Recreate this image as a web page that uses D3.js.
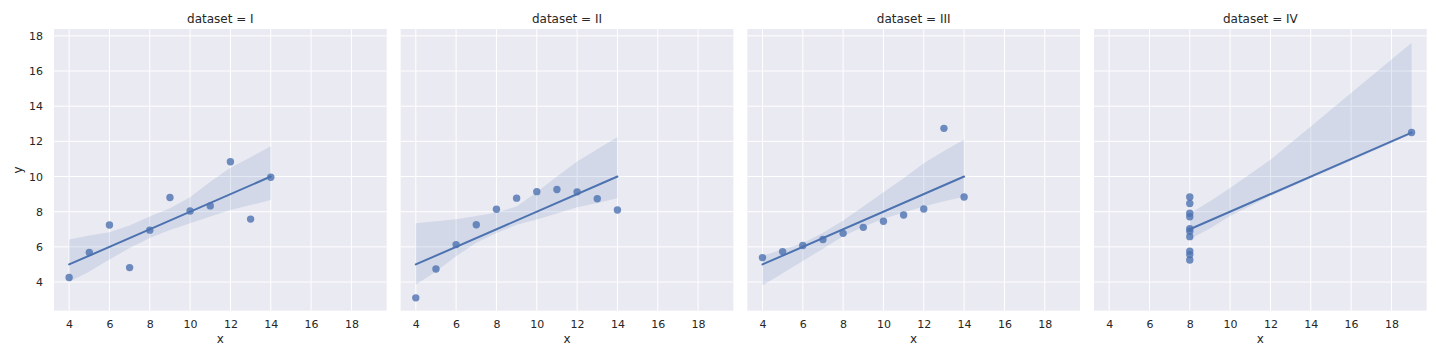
<!DOCTYPE html>
<html>
<head>
<meta charset="utf-8">
<script src="https://cdn.jsdelivr.net/npm/d3@7"></script>
<style>
  html, body { margin: 0; padding: 0; background: #ffffff; }
  svg { display: block; }
  text { font-family: "DejaVu Sans", sans-serif; fill: #262626; }
</style>
</head>
<body>
<svg id="chart" width="1440" height="360"></svg>
<script>
// ---------- data ----------
const datasets = ["I", "II", "III", "IV"];

const xI   = [10, 8, 13, 9, 11, 14, 6, 4, 12, 7, 5];
const yI   = [8.04, 6.95, 7.58, 8.81, 8.33, 9.96, 7.24, 4.26, 10.84, 4.82, 5.68];
const xII  = [10, 8, 13, 9, 11, 14, 6, 4, 12, 7, 5];
const yII  = [9.14, 8.14, 8.74, 8.77, 9.26, 8.10, 6.13, 3.10, 9.13, 7.26, 4.74];
const xIII = [10, 8, 13, 9, 11, 14, 6, 4, 12, 7, 5];
const yIII = [7.46, 6.77, 12.74, 7.11, 7.81, 8.84, 6.08, 5.39, 8.15, 6.42, 5.73];
const xIV  = [8, 8, 8, 8, 8, 8, 8, 19, 8, 8, 8];
const yIV  = [6.58, 5.76, 7.71, 8.84, 8.47, 7.04, 5.25, 12.50, 5.56, 7.91, 6.89];

// fitted regression lines (endpoints)
const fitI_x   = [4, 14],  fitI_y   = [5.0, 10.0];
const fitII_x  = [4, 14],  fitII_y  = [5.0, 10.0];
const fitIII_x = [4, 14],  fitIII_y = [5.0, 10.0];
const fitIV_x  = [8, 19],  fitIV_y  = [7.0, 12.5];

// confidence bands
const bandI_x   = [4, 5, 6, 7, 8, 9, 10, 11, 12, 13, 14];
const bandI_lo  = [4.0, 4.6, 5.28, 5.94, 6.51, 6.96, 7.34, 7.72, 8.09, 8.38, 8.66];
const bandI_hi  = [6.42, 6.65, 6.83, 7.21, 7.72, 8.19, 8.82, 9.71, 10.5, 11.1, 11.72];
const bandII_x  = [4, 5, 6, 7, 8, 9, 10, 11, 12, 13, 14];
const bandII_lo = [3.85, 4.6, 5.47, 6.23, 6.79, 7.26, 7.55, 7.9, 8.25, 8.5, 8.77];
const bandII_hi = [7.34, 7.45, 7.57, 7.75, 7.95, 8.3, 9.1, 10.0, 10.85, 11.55, 12.25];
const bandIII_x  = [4, 5, 6, 7, 8, 9, 10, 11, 12, 13, 14];
const bandIII_lo = [3.8, 4.5, 5.2, 5.9, 6.6, 7.15, 7.6, 7.95, 8.3, 8.6, 8.85];
const bandIII_hi = [5.5, 5.85, 6.2, 6.8, 7.5, 8.3, 9.1, 9.9, 10.75, 11.45, 12.1];
const bandIV_x  = [8, 9, 10, 12, 14, 16, 18, 19];
const bandIV_lo = [6.45, 7.05, 7.75, 8.9, 9.9, 10.9, 11.9, 12.4];
const bandIV_hi = [7.9, 8.6, 9.35, 10.95, 12.85, 14.75, 16.65, 17.6];

const xTicks = [4, 6, 8, 10, 12, 14, 16, 18];
const yTicks = [4, 6, 8, 10, 12, 14, 16, 18];

const panels = [
  {name: "I",   x: xI,   y: yI,   fx: fitI_x,   fy: fitI_y,   bx: bandI_x,   lo: bandI_lo,   hi: bandI_hi},
  {name: "II",  x: xII,  y: yII,  fx: fitII_x,  fy: fitII_y,  bx: bandII_x,  lo: bandII_lo,  hi: bandII_hi},
  {name: "III", x: xIII, y: yIII, fx: fitIII_x, fy: fitIII_y, bx: bandIII_x, lo: bandIII_lo, hi: bandIII_hi},
  {name: "IV",  x: xIV,  y: yIV,  fx: fitIV_x,  fy: fitIV_y,  bx: bandIV_x,  lo: bandIV_lo,  hi: bandIV_hi}
];

// ---------- layout ----------
const svg = d3.select("#chart");
const left0 = 54, panelW = 332.7, step = 346.67;
const topY = 29, panelH = 281.7;
const blue = "#4C72B0";

const x = d3.scaleLinear().domain([3.25, 19.75]).range([0, panelW]);
const y = d3.scaleLinear().domain([2.37, 18.39]).range([panelH, 0]);

panels.forEach((p, i) => {
  const g = svg.append("g").attr("transform", `translate(${left0 + i * step},${topY})`);

  g.append("rect").attr("width", panelW).attr("height", panelH).attr("fill", "#EAEAF2");

  // grid
  g.selectAll(".vg").data(xTicks).join("line")
    .attr("x1", d => x(d)).attr("x2", d => x(d))
    .attr("y1", 0).attr("y2", panelH)
    .attr("stroke", "#ffffff").attr("stroke-width", 1);
  g.selectAll(".hg").data(yTicks).join("line")
    .attr("x1", 0).attr("x2", panelW)
    .attr("y1", d => y(d)).attr("y2", d => y(d))
    .attr("stroke", "#ffffff").attr("stroke-width", 1);

  // band
  const band = p.bx.map((v, k) => ({x: v, lo: p.lo[k], hi: p.hi[k]}));
  g.append("path").datum(band)
    .attr("d", d3.area().x(d => x(d.x)).y0(d => y(d.lo)).y1(d => y(d.hi)))
    .attr("fill", blue).attr("fill-opacity", 0.15);

  // points
  const pts = p.x.map((v, k) => ({x: v, y: p.y[k]}));
  g.selectAll(".pt").data(pts).join("circle")
    .attr("cx", d => x(d.x)).attr("cy", d => y(d.y)).attr("r", 3.7)
    .attr("fill", blue).attr("fill-opacity", 0.8);

  // fit line
  const fit = p.fx.map((v, k) => ({x: v, y: p.fy[k]}));
  g.append("path").datum(fit)
    .attr("d", d3.line().x(d => x(d.x)).y(d => y(d.y)))
    .attr("fill", "none").attr("stroke", blue).attr("stroke-width", 2)
    .attr("stroke-linecap", "round");

  // x axis
  const xa = g.append("g").attr("transform", `translate(0,${panelH})`)
    .call(d3.axisBottom(x).tickValues(xTicks).tickSize(0).tickPadding(9.5).tickFormat(d3.format("d")));
  xa.select(".domain").remove();
  xa.selectAll("text").attr("font-size", 11).attr("fill", "#262626")
    .style("font-family", "'DejaVu Sans', sans-serif");

  if (i === 0) {
    const ya = g.append("g")
      .call(d3.axisLeft(y).tickValues(yTicks).tickSize(0).tickPadding(11).tickFormat(d3.format("d")));
    ya.select(".domain").remove();
    ya.selectAll("text").attr("font-size", 11).attr("fill", "#262626")
      .style("font-family", "'DejaVu Sans', sans-serif");
    svg.append("text")
      .attr("transform", `translate(21.5,${topY + panelH / 2}) rotate(-90)`)
      .attr("text-anchor", "middle").attr("font-size", 12).text("y");
  }

  // x label
  g.append("text").attr("x", panelW / 2).attr("y", 343.3 - topY)
    .attr("text-anchor", "middle").attr("font-size", 12).text("x");

  // title
  g.append("text").attr("x", panelW / 2).attr("y", 23 - topY)
    .attr("text-anchor", "middle").attr("font-size", 12).text(`dataset = ${p.name}`);
});
</script>
</body>
</html>
